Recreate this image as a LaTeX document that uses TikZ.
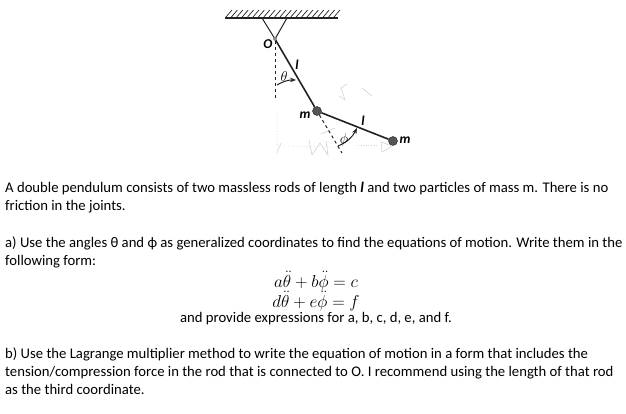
\documentclass[tikz,border=0pt]{standalone}
\usepackage{fontspec}
\setmainfont{Carlito}
\usetikzlibrary{arrows.meta}
\definecolor{inkgray}{HTML}{222222}
\definecolor{ballgray}{HTML}{555555}
\definecolor{smudge}{HTML}{D4D4D4}
\tikzset{
    para/.style={anchor=north west, inner sep=0pt, align=left, font=\fontsize{14.7}{18}\selectfont},
    eqn/.style={inner sep=0pt, font=\fontsize{16.8}{18}\selectfont},
    prose/.style={inner sep=0pt, font=\fontsize{14.7}{18}\selectfont},
    rod/.style={draw=inkgray, line width=1.6pt},
    ball/.style={circle, fill=ballgray, draw=inkgray, inner sep=0pt, minimum size=9pt},
    guide/.style={draw=inkgray, dashed, line width=1pt},
    swing/.style={draw=inkgray, line width=1pt, -{Stealth[length=6pt]}},
    fig/.style={inner sep=0pt, text=black, font=\fontsize{13.5}{13.5}\selectfont\bfseries\itshape},
    residue/.style={draw=smudge, line width=0.6pt}
}
\begin{document}
\begin{tikzpicture}[x=1pt, y=-1pt]
                \useasboundingbox[fill=white] (0,0) rectangle (626,414);
                \coordinate (wallL) at (225,18);
                \coordinate (wallR) at (338,18);
                \coordinate (braceL) at (262,18);
                \coordinate (braceR) at (287,18);
                \coordinate (plumb) at (275,99);
                \coordinate (extend) at (342,153);
                \node[circle, draw=inkgray, inner sep=0pt, minimum size=3pt] (pivot) at (275,39) {};
                \node[ball] (mOne) at (317,111) {};
                \node[ball] (mTwo) at (393,141) {};

                \draw[residue, dotted] (277,113) -- (277,146) -- (340,147);
                \draw[residue, dotted] (358,145) -- (378,145);
                \draw[residue] (309,140) -- (312,155) -- (320,143) -- (328,155) -- (326,141);
                \draw[residue] (321,134) -- (335,128);
                \draw[residue] (381,142) -- (392,146) -- (382,152) -- (381,142);
                \draw[residue] (339,96) -- (345,100) -- (341,88) -- (347,84);
                \draw[residue] (362,88) -- (372,96);
                \draw[residue] (281,143) -- (277,153);

                \foreach \hatch in {0,...,20}
                    \draw[inkgray, line width=0.7pt] (226+5.4*\hatch,17) -- (232+5.4*\hatch,10);
                \draw[rod] (wallL) -- (wallR);
                \draw[rod, line width=1pt] (braceL) -- (pivot);
                \draw[rod, line width=1pt] (braceR) -- (pivot);
                \draw[rod] (pivot) -- (mOne);
                \draw[rod] (mOne) -- (mTwo);
                \draw[guide] (pivot) -- (plumb);
                \draw[guide] (mOne) -- (extend);
                \draw[swing] (277,85) to[bend left=15] (296,80);
                \draw[swing] (338,146) to[bend right=20] (357,128);

                \node[fig] (labelO) at (268,44) {O};
                \node[fig] (labelRodOne) at (297,65) {l};
                \node[fig] (labelTheta) at (284,77) {$\theta$};
                \node[fig] (labelMOne) at (305,115) {m};
                \node[fig] (labelRodTwo) at (363,121) {l};
                \node[fig] (labelPhi) at (344,140) {$\phi$};
                \node[fig] (labelMTwo) at (405,140) {m};

                \node[para] (intro) at (5,182) {A double pendulum consists of two massless rods of length \textbf{\textit{l}} and two particles of mass m. There is no\\friction in the joints.};
                \node[para] (partA) at (5,237) {a) Use the angles θ and ϕ as generalized coordinates to find the equations of motion. Write them in the\\following form:};
                \node[eqn] (eqnOne) at (316,281) {$a\ddot{\theta}+b\ddot{\phi}=c$};
                \node[eqn] (eqnTwo) at (316,301) {$d\ddot{\theta}+e\ddot{\phi}=f$};
                \node[prose] (provide) at (316,319) {and provide expressions for a, b, c, d, e, and f.};
                \node[para] (partB) at (5,348) {b) Use the Lagrange multiplier method to write the equation of motion in a form that includes the\\tension/compression force in the rod that is connected to O. I recommend using the length of that rod\\as the third coordinate.};
            \end{tikzpicture}
\end{document}
